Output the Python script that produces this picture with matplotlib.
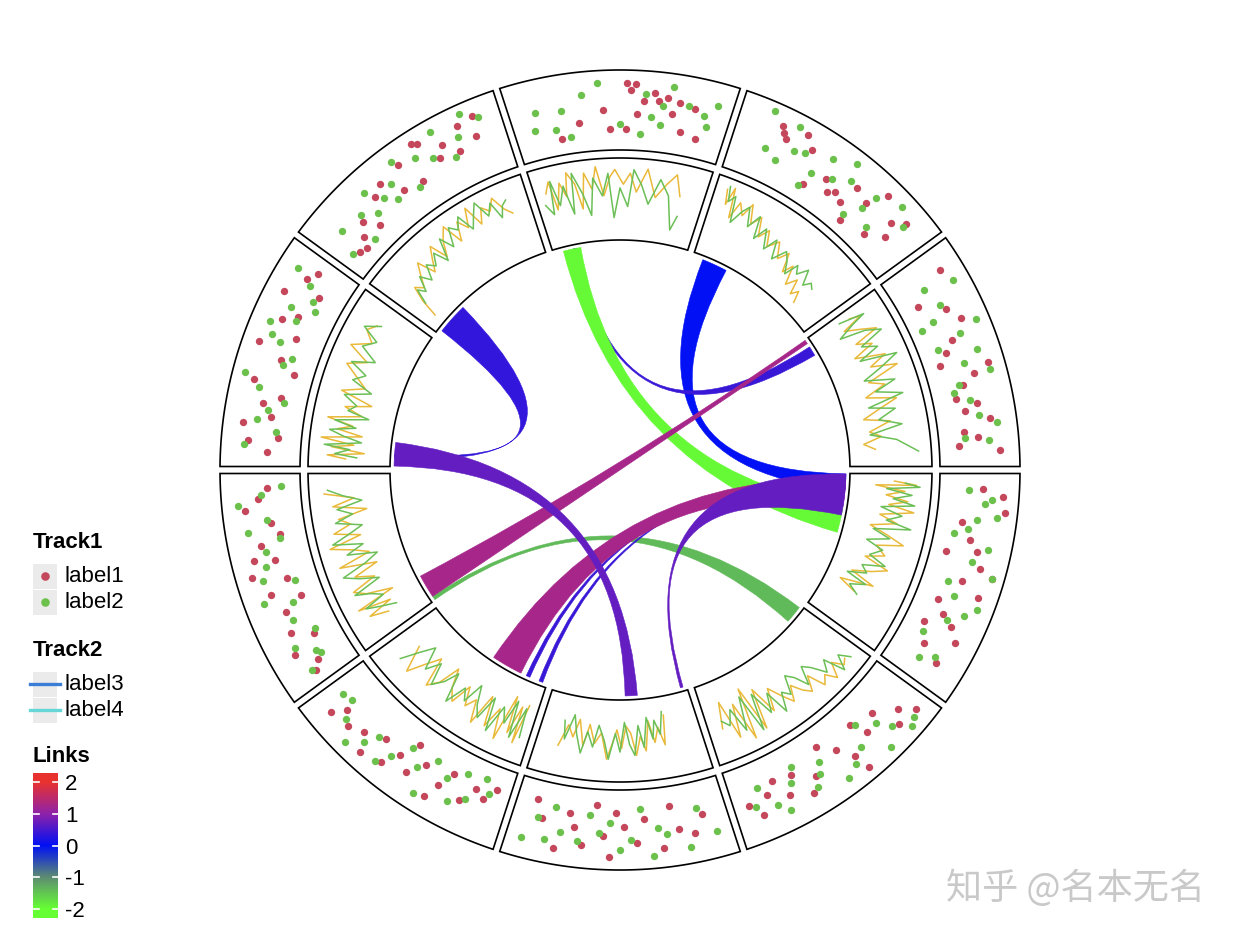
import numpy as np
import matplotlib.pyplot as plt
from matplotlib.patches import Polygon, PathPatch, Rectangle
from matplotlib.path import Path
from matplotlib.colors import LinearSegmentedColormap, Normalize

plt.rcParams['font.family'] = ['Liberation Sans', 'DejaVu Sans']

# ---- track 1 (outer, points), values in percent: x = position in sector, y = track value
t1_red_x = [
    [53, 57, 55, 66, 61, 68, 72, 78, 85, 75, 42, 45, 53, 30, 80, 88, 58, 20],
    [18, 20, 22, 30, 35, 48, 52, 55, 60, 62, 70, 75, 80, 85, 88, 90, 40, 66],
    [8, 18, 25, 32, 40, 45, 55, 58, 62, 68, 72, 75, 80, 85, 88, 92, 95, 50],
    [5, 8, 15, 22, 30, 35, 38, 42, 50, 55, 62, 68, 72, 75, 78, 85, 90, 45],
    [5, 10, 15, 20, 28, 32, 40, 45, 52, 60, 65, 70, 75, 80, 85, 90, 95, 38],
    [10, 15, 22, 25, 30, 38, 42, 48, 52, 58, 62, 68, 72, 75, 80, 88, 92, 55],
    [5, 10, 15, 20, 28, 32, 35, 42, 48, 55, 60, 65, 70, 75, 82, 88, 92, 50],
    [4, 8, 15, 20, 25, 35, 40, 45, 50, 55, 60, 62, 68, 72, 78, 85, 90, 95],
    [5, 10, 12, 18, 22, 28, 32, 38, 45, 50, 55, 62, 68, 72, 80, 85, 90, 95],
    [8, 12, 15, 20, 25, 32, 38, 45, 50, 55, 62, 68, 72, 78, 82, 88, 90, 60],
]
t1_red_y = [
    [90, 88, 80, 78, 65, 66, 72, 68, 62, 50, 50, 22, 22, 35, 25, 20, 45, 15],
    [80, 72, 65, 85, 70, 45, 30, 38, 30, 62, 55, 85, 20, 60, 40, 75, 20, 10],
    [75, 20, 55, 70, 45, 30, 85, 60, 40, 25, 55, 35, 70, 30, 50, 20, 80, 15],
    [55, 85, 90, 30, 45, 60, 15, 70, 50, 80, 25, 40, 60, 20, 75, 35, 65, 90],
    [80, 60, 75, 35, 50, 25, 65, 40, 20, 55, 75, 35, 60, 30, 45, 70, 50, 90],
    [40, 65, 55, 20, 80, 35, 70, 45, 25, 60, 15, 75, 50, 30, 85, 45, 20, 90],
    [25, 45, 35, 60, 30, 55, 80, 40, 65, 50, 75, 45, 85, 60, 70, 55, 75, 20],
    [55, 45, 70, 30, 60, 55, 25, 65, 35, 85, 45, 75, 60, 30, 40, 75, 55, 40],
    [40, 70, 25, 80, 40, 55, 30, 75, 20, 45, 85, 35, 65, 45, 80, 30, 60, 50],
    [20, 15, 30, 45, 25, 60, 70, 40, 75, 35, 85, 50, 65, 45, 80, 55, 85, 90],
]
t1_green_x = [
    [22, 32, 18, 8, 62, 70, 74, 82, 90, 92, 70, 65, 40, 25, 10, 50, 95, 60],
    [12, 25, 28, 22, 33, 40, 45, 50, 55, 58, 65, 70, 78, 83, 90, 15, 38, 72],
    [12, 22, 28, 35, 38, 42, 48, 52, 58, 62, 65, 70, 78, 82, 88, 90, 15, 30],
    [6, 10, 12, 18, 20, 25, 28, 33, 40, 45, 52, 58, 65, 70, 80, 88, 92, 60],
    [8, 12, 18, 22, 25, 30, 35, 42, 48, 55, 58, 62, 68, 72, 78, 82, 88, 92],
    [5, 12, 18, 28, 32, 35, 40, 45, 50, 55, 60, 65, 70, 78, 82, 85, 90, 95],
    [8, 12, 18, 22, 25, 30, 38, 40, 45, 52, 58, 62, 68, 72, 78, 85, 90, 95],
    [5, 10, 12, 18, 22, 30, 38, 42, 48, 58, 65, 70, 75, 80, 88, 92, 96, 52],
    [8, 15, 20, 25, 30, 35, 40, 48, 52, 58, 60, 65, 70, 75, 78, 82, 88, 92],
    [5, 10, 18, 22, 28, 30, 35, 42, 48, 52, 58, 65, 70, 75, 80, 85, 92, 40],
]
t1_green_y = [
    [55, 75, 30, 35, 75, 60, 90, 65, 55, 40, 32, 42, 90, 15, 60, 30, 75, 15],
    [95, 90, 55, 30, 60, 40, 75, 50, 90, 65, 20, 45, 30, 88, 70, 40, 15, 70],
    [40, 50, 30, 90, 60, 20, 75, 50, 85, 35, 25, 45, 55, 80, 30, 65, 85, 10],
    [35, 70, 60, 80, 50, 40, 20, 75, 55, 90, 30, 45, 70, 50, 25, 60, 40, 85],
    [85, 92, 70, 50, 90, 30, 60, 75, 85, 40, 55, 70, 25, 45, 80, 65, 30, 55],
    [70, 30, 85, 60, 50, 90, 20, 65, 80, 40, 55, 30, 70, 60, 25, 75, 45, 80],
    [35, 15, 55, 20, 70, 40, 25, 85, 50, 30, 60, 80, 50, 70, 90, 65, 40, 45],
    [60, 35, 40, 65, 25, 50, 40, 80, 25, 60, 55, 30, 75, 45, 85, 50, 20, 70],
    [75, 30, 60, 45, 25, 65, 90, 40, 30, 55, 70, 80, 45, 60, 25, 35, 50, 80],
    [25, 60, 15, 55, 40, 75, 50, 60, 85, 30, 70, 55, 90, 40, 65, 95, 80, 35],
]

# ---- track 2 (middle, lines)
t2_orange_x = [
    [5, 8, 10, 14, 17, 19, 23, 26, 29, 33, 36, 40, 44, 47, 52, 56, 60, 66, 72, 78, 83, 87],
    [5, 7, 9, 12, 15, 19, 22, 26, 30, 34, 38, 42, 47, 52, 56, 60, 63, 67, 71, 74, 77, 80],
    [4, 6, 9, 13, 17, 20, 24, 28, 33, 37, 41, 46, 50, 55, 60, 64, 69, 73, 78, 82, 86, 90],
    [3, 5, 6, 9, 12, 15, 18, 21, 25, 29, 33, 37, 41, 45, 50, 54, 58, 62, 66, 70, 74, 78],
    [8, 11, 15, 19, 23, 27, 31, 35, 39, 43, 47, 51, 56, 60, 65, 69, 73, 77, 81, 85, 89, 93],
    [20, 22, 25, 28, 31, 34, 37, 40, 43, 46, 49, 52, 55, 58, 62, 66, 70, 73, 77, 80, 84, 88],
    [5, 7, 9, 12, 15, 18, 22, 26, 30, 34, 38, 42, 46, 50, 55, 59, 63, 68, 72, 77, 82, 88],
    [10, 13, 16, 19, 22, 26, 30, 34, 38, 42, 46, 50, 54, 58, 62, 66, 70, 74, 78, 82, 86, 90],
    [3, 5, 7, 10, 12, 15, 18, 21, 24, 27, 31, 35, 39, 44, 49, 54, 60, 65, 71, 77, 83, 88],
    [8, 10, 13, 17, 21, 25, 29, 33, 37, 41, 45, 50, 54, 58, 62, 66, 70, 74, 78, 82, 86, 90],
]
t2_orange_y = [
    [70, 85, 45, 80, 60, 92, 75, 40, 88, 65, 95, 55, 80, 90, 70, 85, 60, 92, 55, 75, 90, 62],
    [90, 70, 95, 55, 80, 65, 85, 60, 75, 50, 65, 45, 60, 40, 55, 30, 45, 20, 35, 15, 25, 10],
    [55, 70, 40, 60, 80, 45, 65, 35, 75, 50, 85, 40, 60, 30, 70, 45, 20, 55, 25, 40, 15, 30],
    [55, 85, 30, 70, 45, 75, 50, 85, 40, 65, 30, 55, 80, 45, 60, 35, 70, 50, 25, 60, 15, 40],
    [80, 85, 70, 90, 75, 85, 60, 80, 70, 55, 75, 60, 40, 70, 30, 85, 20, 90, 35, 80, 25, 60],
    [20, 60, 35, 55, 25, 65, 45, 70, 40, 30, 60, 35, 55, 75, 40, 55, 30, 60, 25, 50, 35, 65],
    [25, 80, 30, 70, 20, 85, 45, 75, 35, 80, 50, 65, 40, 70, 55, 30, 60, 75, 35, 55, 80, 45],
    [50, 75, 40, 85, 30, 65, 80, 45, 70, 35, 85, 40, 60, 90, 45, 80, 55, 70, 30, 75, 45, 85],
    [55, 80, 30, 75, 45, 90, 35, 70, 50, 85, 40, 65, 30, 75, 45, 60, 80, 55, 85, 60, 75, 65],
    [10, 35, 55, 45, 60, 75, 50, 65, 80, 55, 75, 90, 60, 85, 70, 95, 65, 85, 75, 90, 70, 60],
]
t2_green_x = [
    [3, 7, 9, 12, 16, 20, 22, 27, 31, 34, 39, 43, 46, 50, 55, 58, 63, 68, 74, 80, 85, 88],
    [6, 8, 11, 14, 18, 21, 25, 29, 32, 36, 41, 45, 49, 54, 58, 62, 65, 68, 72, 76, 79, 82],
    [3, 6, 8, 12, 15, 19, 23, 27, 31, 35, 40, 44, 49, 53, 58, 62, 66, 71, 76, 80, 85, 93],
    [4, 6, 8, 11, 14, 17, 20, 24, 28, 31, 35, 39, 43, 47, 52, 56, 60, 64, 68, 71, 75, 79],
    [5, 9, 13, 17, 21, 26, 30, 34, 38, 42, 46, 50, 54, 58, 62, 67, 71, 75, 80, 84, 88, 92],
    [21, 24, 27, 29, 32, 35, 38, 41, 44, 47, 50, 53, 57, 60, 64, 67, 71, 74, 78, 81, 85, 87],
    [4, 6, 10, 13, 16, 20, 24, 28, 32, 36, 40, 44, 48, 53, 57, 61, 66, 70, 75, 80, 85, 90],
    [12, 15, 18, 21, 25, 28, 32, 36, 40, 44, 48, 52, 56, 60, 64, 68, 72, 76, 80, 84, 88, 92],
    [4, 6, 9, 11, 14, 17, 20, 23, 26, 30, 33, 37, 42, 47, 52, 57, 62, 67, 73, 79, 84, 89],
    [10, 13, 16, 20, 24, 28, 32, 36, 40, 44, 48, 52, 56, 60, 64, 68, 72, 76, 80, 83, 86, 89],
]
t2_green_y = [
    [55, 40, 85, 50, 75, 35, 90, 60, 30, 80, 55, 85, 25, 65, 40, 90, 70, 45, 80, 60, 15, 35],
    [95, 75, 85, 50, 70, 80, 55, 75, 45, 65, 40, 60, 35, 55, 45, 30, 50, 40, 55, 35, 45, 40],
    [40, 75, 55, 30, 65, 85, 50, 70, 40, 90, 60, 35, 75, 45, 80, 30, 65, 40, 70, 25, 60, 88],
    [70, 90, 45, 80, 55, 85, 40, 70, 50, 85, 35, 60, 30, 55, 40, 65, 35, 45, 20, 50, 30, 45],
    [85, 70, 90, 60, 75, 55, 45, 70, 50, 40, 65, 55, 80, 45, 70, 35, 85, 30, 75, 40, 60, 50],
    [15, 45, 25, 50, 20, 60, 30, 70, 55, 25, 65, 40, 75, 50, 30, 60, 40, 70, 45, 20, 55, 30],
    [70, 30, 75, 25, 60, 40, 80, 35, 70, 55, 30, 60, 45, 75, 35, 55, 70, 40, 60, 30, 50, 75],
    [35, 55, 75, 45, 60, 80, 40, 65, 85, 50, 30, 70, 45, 85, 60, 40, 75, 50, 70, 35, 60, 80],
    [40, 70, 50, 85, 35, 60, 80, 45, 75, 30, 60, 50, 70, 35, 65, 50, 75, 45, 70, 55, 80, 60],
    [30, 50, 40, 60, 45, 65, 55, 70, 50, 80, 60, 85, 75, 90, 65, 80, 95, 70, 85, 60, 75, 80],
]

# ---- links: angle ranges (degrees, counter-clockwise from 3 o'clock) and value
link_a = [(62, 68.5), (101, 102), (100, 104.5), (214, 215), (245.5, 246.5), (249, 250),
          (236, 244), (208, 214), (134, 142), (173, 179), (-11.5, -1)]
link_b = [(-5, -1), (30.5, 33), (-16, -9), (-42, -37.5), (-3.4, -3.2), (-3.0, -2.8),
          (-9, -2.5), (34, 35), (176, 177), (-88.7, -85.6), (-74.5, -73.8)]
link_val = [0.0, 0.4, -1.95, -1.4, 0.4, 0.4, 1.25, 1.25, 0.35, 0.7, 0.7]

cb_ticks = [2, 1, 0, -1, -2]

# ---- geometry (pixels)
CX, CY = 620, 470
R_OUT = (320, 400)
R_MID = (230, 312)
R_LINK = 226
HALF_GAP = 3.5
SPAN = 36
starts = [108 - SPAN * i for i in range(10)]

cmap = LinearSegmentedColormap.from_list(
    'links', [(0, '#66FF33'), (0.25, '#5E8C72'), (0.5, '#0010F5'), (0.75, '#8E22AA'), (1, '#E8322F')])
norm = Normalize(-2, 2)

fig = plt.figure(figsize=(12.4, 9.4), dpi=100)
ax = fig.add_axes([0, 0, 1, 1])
ax.set_xlim(0, 1240)
ax.set_ylim(940, 0)
ax.set_aspect('equal')
ax.axis('off')


def polar(theta_deg, r):
    th = np.radians(theta_deg)
    return CX + r * np.cos(th), CY - r * np.sin(th)


def sector_outline(a_start, a_end, r0, r1):
    d1 = np.degrees(np.arcsin(HALF_GAP / r1))
    d0 = np.degrees(np.arcsin(HALF_GAP / r0))
    xo, yo = polar(np.linspace(a_start - d1, a_end + d1, 90), r1)
    xi, yi = polar(np.linspace(a_end + d0, a_start - d0, 90), r0)
    pts = np.column_stack([np.r_[xo, xi], np.r_[yo, yi]])
    return Polygon(pts, closed=True, fill=False, ec='black', lw=1.2, zorder=3)


def to_track(i, xs, ys, radii, pad):
    t = np.asarray(xs) / 100.0
    v = np.asarray(ys) / 100.0
    theta = starts[i] - 1.3 - t * (SPAN - 2.6)
    r = radii[0] + pad + v * (radii[1] - radii[0] - 2 * pad)
    return polar(theta, r)


for i in range(10):
    ax.add_patch(sector_outline(starts[i], starts[i] - SPAN, *R_OUT))
    ax.add_patch(sector_outline(starts[i], starts[i] - SPAN, *R_MID))

    x, y = to_track(i, t1_red_x[i], t1_red_y[i], R_OUT, 6)
    ax.scatter(x, y, s=28, color='#C4475B', lw=0, zorder=4)
    x, y = to_track(i, t1_green_x[i], t1_green_y[i], R_OUT, 6)
    ax.scatter(x, y, s=28, color='#6CC04C', lw=0, zorder=4)

    x, y = to_track(i, t2_orange_x[i], t2_orange_y[i], R_MID, 4)
    ax.plot(x, y, color='#E9B93A', lw=1.1, zorder=4)
    x, y = to_track(i, t2_green_x[i], t2_green_y[i], R_MID, 4)
    ax.plot(x, y, color='#6CBF56', lw=1.1, zorder=4)


def ribbon(a, b, r):
    xa, ya = polar(np.linspace(a[0], a[1], 30), r)
    xb, yb = polar(np.linspace(b[0], b[1], 30), r)
    A = list(zip(xa, ya))
    B = list(zip(xb, yb))
    verts = A + [(CX, CY), B[0]] + B[1:] + [(CX, CY), A[0], A[0]]
    codes = ([Path.MOVETO] + [Path.LINETO] * (len(A) - 1) + [Path.CURVE3, Path.CURVE3]
             + [Path.LINETO] * (len(B) - 1) + [Path.CURVE3, Path.CURVE3, Path.CLOSEPOLY])
    return Path(verts, codes)


for k, (a, b, val) in enumerate(zip(link_a, link_b, link_val)):
    col = cmap(norm(val))
    ax.add_patch(PathPatch(ribbon(a, b, R_LINK), fc=col, ec=col, lw=0.4, zorder=2 + k * 0.01))

# ---- legends
ax.text(33, 543, 'Track1', fontsize=16, fontweight='bold', va='center', ha='left')
for yc, lab, col in [(576, 'label1', '#C4475B'), (602, 'label2', '#6CC04C')]:
    ax.add_patch(Rectangle((33, yc - 12.5), 24, 25, fc='#EBEBEB', ec='none'))
    ax.scatter([45], [yc], s=38, color=col, lw=0, zorder=5)
    ax.text(65, yc, lab, fontsize=16, va='center', ha='left')

ax.text(33, 651, 'Track2', fontsize=16, fontweight='bold', va='center', ha='left')
for yc, lab, col in [(684, 'label3', '#3A7FD5'), (710, 'label4', '#66D6D6')]:
    ax.add_patch(Rectangle((33, yc - 12.5), 24, 25, fc='#EBEBEB', ec='none'))
    ax.plot([30, 60], [yc, yc], color=col, lw=2.4, zorder=5)
    ax.text(65, yc, lab, fontsize=16, va='center', ha='left')

ax.text(33, 757, 'Links', fontsize=16, fontweight='bold', va='center', ha='left')

cax = fig.add_axes([33 / 1240, (940 - 918) / 940, 25 / 1240, 145 / 940])
grad = np.linspace(2.28, -2.28, 300).reshape(-1, 1)
cax.imshow(grad, cmap=cmap, norm=norm, aspect='auto', extent=[0, 1, -2.28, 2.28])
for v in cb_ticks:
    cax.plot([0, 0.22], [v, v], color='white', lw=1.2)
    cax.plot([0.78, 1], [v, v], color='white', lw=1.2)
cax.set_xlim(0, 1)
cax.set_ylim(-2.28, 2.28)
cax.set_xticks([])
cax.yaxis.tick_right()
cax.set_yticks(cb_ticks)
cax.set_yticklabels([str(v) for v in cb_ticks])
cax.tick_params(axis='y', length=0, labelsize=16, pad=5)
for s in cax.spines.values():
    s.set_visible(False)

ax.text(1075, 888, '知乎 @名本无名', fontsize=26, color='#C9C9C9', ha='center', va='center',
        family=['Noto Sans CJK SC', 'DejaVu Sans'])

fig.savefig('out.png', dpi=100)
